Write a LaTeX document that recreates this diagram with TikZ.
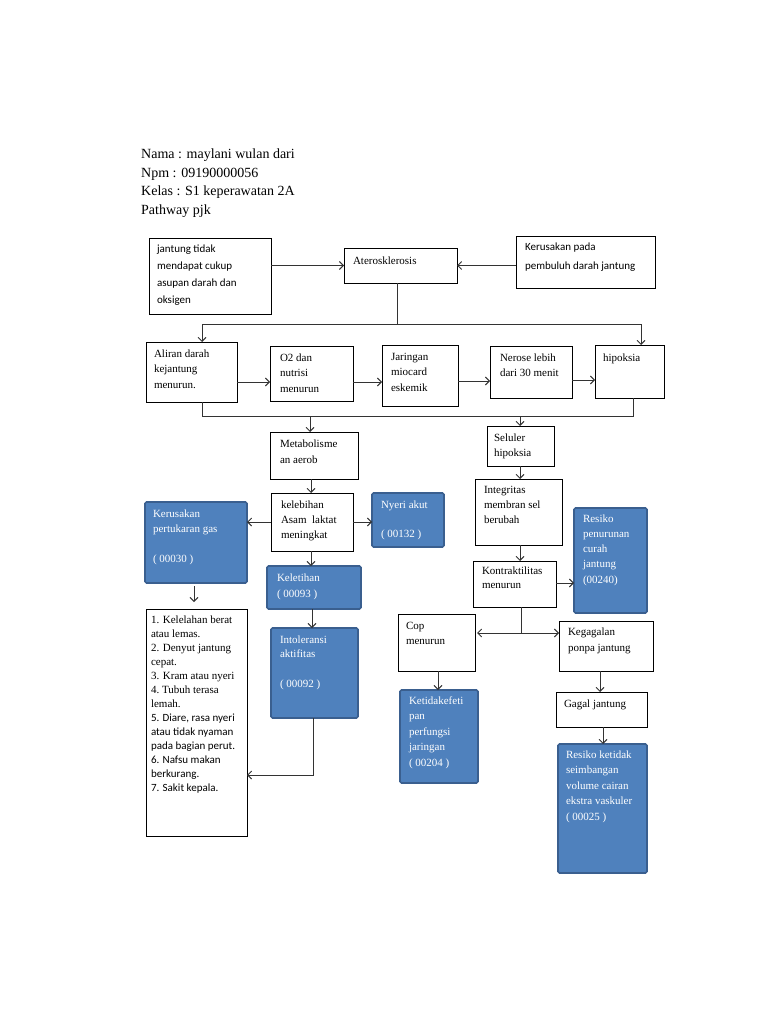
\documentclass[tikz,border=0pt]{standalone}
\usepackage{fontspec}
\setmainfont{Liberation Serif}
\newfontfamily\calf{Carlito}
\usetikzlibrary{arrows.meta}
\definecolor{bfill}{HTML}{4F81BD}
\definecolor{bdraw}{HTML}{3A5F8F}
\definecolor{lnc}{HTML}{333333}
% #1 style, #2 name, #3 x,y (top left), #4 width, #5 height, #6 left pad, #7 line skip, #8 first baseline offset, #9 text
\newcommand\bx[9][plainbox]{%
  \node[#1, anchor=north west, inner sep=0pt, outer sep=0pt] (#2) at (#3)
  {\parbox[t][#5pt][t]{#4pt}{\noindent\hspace*{#6pt}\rlap{\vtop{\hsize=300pt\parindent=0pt\noindent\rule{0pt}{#8pt}#9\baselineskip=#7pt\relax\par}}}};}
\begin{document}
\begin{tikzpicture}[x=1pt,y=-1pt,
  font=\fontsize{11}{14}\selectfont,
  plainbox/.style={draw=black, line width=0.8pt, fill=white},
  bluebox/.style={draw=bdraw, line width=1.6pt, fill=bfill, text=white, rounded corners=1.5pt},
  ln/.style={draw=lnc, line width=0.9pt},
  arr/.style={ln, -{Straight Barb[length=4pt,width=8pt]}},
  hdr/.style={anchor=base west, inner sep=0pt, font=\fontsize{14}{18}\selectfont}]
\fill[white] (0,0) rectangle (768,1024);
\useasboundingbox (0,0) rectangle (768,1024);

% header
\node[hdr] (h1) at (141,159) {Nama : maylani wulan dari};
\node[hdr] (h2) at (141,177.5) {Npm : 09190000056};
\node[hdr] (h3) at (141,196) {Kelas : S1 keperawatan 2A};
\node[hdr] (h4) at (141,214.5) {Pathway pjk};

% top row
\bx{jant}{149,238}{122}{76}{8}{17.3}{14}{\calf jantung tidak\\mendapat cukup\\asupan darah dan\\oksigen}
\bx{ater}{344,248}{113}{35}{9}{15}{16}{Aterosklerosis}
\bx{kerp}{516,236}{139}{52}{9}{18}{15}{\calf Kerusakan pada\\pembuluh darah jantung}

% second row
\bx{aliran}{146,342}{91}{60}{8}{15.5}{15}{Aliran darah\\kejantung\\menurun.}
\bx{otwo}{270,346}{83}{55}{10}{15.5}{15}{O2 dan\\nutrisi\\menurun}
\bx{jar}{382,345}{76}{61}{9}{15.5}{15}{Jaringan\\miocard\\eskemik}
\bx{ner}{490,346}{82}{52}{10}{15.5}{15}{Nerose lebih\\dari 30 menit}
\bx{hip}{595,345}{69}{53}{8}{15.5}{16}{hipoksia}

% left middle column
\bx{metab}{270,432}{88}{47}{10}{16}{15}{Metabolisme\\an aerob}
\bx{kel}{271,493}{82}{58}{10}{15}{15}{kelebihan\\Asam\ \ laktat\\meningkat}
\bx[bluebox]{nyeri}{372,493}{72}{54}{9}{14.5}{15}{Nyeri akut\\\mbox{}\\( 00132 )}
\bx[bluebox]{kerg}{145,502}{102}{81}{8}{15}{15}{Kerusakan\\pertukaran gas\\\mbox{}\\( 00030 )}
\bx[bluebox]{kelet}{267,566}{94}{43}{10}{16}{15}{Keletihan\\( 00093 )}
\bx[bluebox]{intol}{271,628}{87}{90}{9}{14.7}{15}{Intoleransi\\aktifitas\\\mbox{}\\( 00092 )}
\bx{list}{146,609}{101}{227}{5}{14}{14}{1. Kelelahan berat\\atau lemas.\\2. Denyut jantung\\cepat.\\3. Kram atau nyeri\\4.\ Tubuh terasa\\lemah.\\{\calf 5. Diare, rasa nyeri}\\{\calf atau tidak nyaman}\\{\calf pada bagian perut.}\\{\calf 6. Nafsu makan}\\{\calf berkurang.}\\{\calf 7. Sakit kepala.}}

% right column
\bx{selu}{487,426}{67}{40}{7}{15}{15}{Seluler\\hipoksia}
\bx{integ}{475,479}{87}{66}{9}{15}{14}{Integritas\\membran sel\\berubah}
\bx[bluebox]{resp}{574,508}{73}{105}{9}{15.3}{14}{Resiko\\penurunan\\curah\\jantung\\(00240)}
\bx{kontr}{473,561}{83}{46}{9}{14.5}{13}{Kontraktilitas\\menurun}
\bx{cop}{398,614}{77}{57}{8}{15}{15}{Cop\\menurun}
\bx{keg}{559,621}{94}{50}{9}{16}{14}{Kegagalan\\ponpa jantung}
\bx[bluebox]{ketid}{400,690}{78}{93}{9}{15.5}{14}{Ketidakefeti\\pan\\perfungsi\\jaringan\\( 00204 )}
\bx{gagal}{556,692}{91}{35}{8}{15}{15}{Gagal jantung}
\bx[bluebox]{resk}{558,744}{89}{129}{8}{15.5}{14}{Resiko ketidak\\seimbangan\\volume cairan\\ekstra vaskuler\\( 00025 )}

% connectors: top
\draw[arr] (jant.east |- ater.west) -- (ater.west);
\draw[arr] (kerp.west |- ater.east) -- (ater.east);
\coordinate (b1) at (397,324);
\coordinate (bL) at (202,324);
\coordinate (bR) at (641,324);
\draw[ln] (ater.south -| b1) -- (b1);
\draw[ln] (bL) -- (bR);
\draw[arr] (bL) -- (bL |- aliran.north);
\draw[arr] (bR) -- (bR |- hip.north);

% second row arrows
\draw[arr] (aliran.east |- 0,382) -- (otwo.west |- 0,382);
\draw[arr] (otwo.east |- 0,382) -- (jar.west |- 0,382);
\draw[arr] (jar.east |- 0,381) -- (ner.west |- 0,381);
\draw[arr] (ner.east |- 0,380) -- (hip.west |- 0,380);

% bus under second row
\coordinate (c1) at (202,416);
\coordinate (c2) at (633,416);
\coordinate (c3) at (310,416);
\coordinate (c4) at (520,416);
\draw[ln] (c1 |- aliran.south) -- (c1) -- (c2) -- (c2 |- hip.south);
\draw[arr] (c3) -- (c3 |- metab.north);
\draw[arr] (c4) -- (c4 |- selu.north);

% left column arrows
\draw[arr] (metab.south -| 311,0) -- (kel.north -| 311,0);
\draw[arr] (kel.west |- 0,522) -- (kerg.east |- 0,522);
\draw[arr] (kel.east |- 0,522) -- (nyeri.west |- 0,522);
\draw[arr] (kel.south -| 311,0) -- (kelet.north -| 311,0);
\draw[arr] (kelet.south -| 312,0) -- (intol.north -| 312,0);
\draw[arr, shorten <=3pt, shorten >=7pt] (kerg.south -| 194,0) -- (list.north -| 194,0);
\coordinate (e1) at (313,775);
\draw[arr] (intol.south -| e1) -- (e1) -- (list.east |- e1);

% right column arrows
\draw[arr] (selu.south -| 520,0) -- (integ.north -| 520,0);
\draw[arr] (integ.south -| 520,0) -- (kontr.north -| 520,0);
\draw[arr] (kontr.east |- 0,583) -- (resp.west |- 0,583);
\coordinate (d1) at (521,633);
\draw[ln] (kontr.south -| d1) -- (d1);
\draw[arr, shorten >=2pt] (d1) -- (cop.east |- d1);
\draw[arr] (d1) -- (keg.west |- d1);
\draw[arr] (cop.south -| 438,0) -- (ketid.north -| 438,0);
\draw[arr] (keg.south -| 600,0) -- (gagal.north -| 600,0);
\draw[arr] (gagal.south -| 603,0) -- (resk.north -| 603,0);
\end{tikzpicture}
\end{document}
